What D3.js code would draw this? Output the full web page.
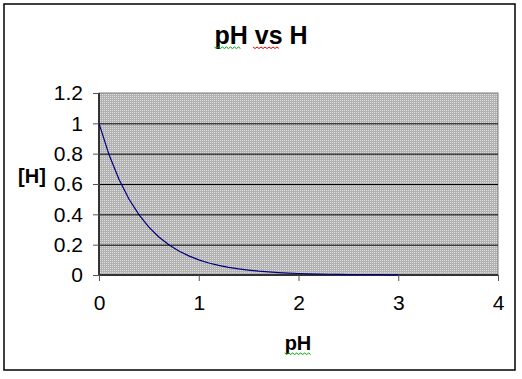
<!DOCTYPE html>
<html>
<head>
<meta charset="utf-8">
<script src="https://cdn.jsdelivr.net/npm/d3@7"></script>
<style>
  body { margin: 0; background: #fff; }
  svg text { font-family: "Liberation Sans", Arial, sans-serif; }
</style>
</head>
<body>
<div id="chart"></div>
<script>
// pH values and matching [H] concentrations
let phValues = [0, 0.1, 0.2, 0.3, 0.4, 0.5, 0.6, 0.7, 0.8, 0.9, 1,
    1.1, 1.2, 1.3, 1.4, 1.5, 1.6, 1.7, 1.8, 1.9, 2,
    2.1, 2.2, 2.3, 2.4, 2.5, 2.6, 2.7, 2.8, 2.9, 3];
let hValues = [1, 0.794, 0.631, 0.501, 0.398, 0.316, 0.251, 0.2, 0.158, 0.126, 0.1,
    0.079, 0.063, 0.05, 0.04, 0.032, 0.025, 0.02, 0.016, 0.013, 0.01,
    0.008, 0.006, 0.005, 0.004, 0.003, 0.003, 0.002, 0.002, 0.001, 0.001];
let xTicks = [0, 1, 2, 3, 4];
let yTicks = [0, 0.2, 0.4, 0.6, 0.8, 1, 1.2];

let width = 522, height = 379;

let svg = d3.select("#chart").append("svg")
    .attr("width", width)
    .attr("height", height);

// dotted fill like the old Excel plot area
let defs = svg.append("defs");
let pat = defs.append("pattern")
    .attr("id", "dots")
    .attr("width", 2).attr("height", 2)
    .attr("patternUnits", "userSpaceOnUse");
pat.append("rect").attr("width", 2).attr("height", 2).attr("fill", "#b2b2b2");
pat.append("rect").attr("width", 1).attr("height", 1).attr("fill", "#dedede");

// outer chart border
svg.append("rect")
    .attr("x", 4).attr("y", 4)
    .attr("width", 511).attr("height", 366)
    .attr("fill", "#fff")
    .attr("stroke", "#000")
    .attr("stroke-width", 1.5);

let x = d3.scaleLinear().domain([0, 4]).range([99, 498]);
let y = d3.scaleLinear().domain([0, 1.2]).range([275, 93]);

// plot area
svg.append("rect")
    .attr("x", x(0)).attr("y", y(1.2))
    .attr("width", x(4) - x(0)).attr("height", y(0) - y(1.2))
    .attr("fill", "url(#dots)")
    .attr("stroke", "#808080")
    .attr("stroke-width", 1);

// gridlines
svg.append("g")
    .selectAll("line")
    .data(yTicks.filter(d => d > 0 && d < 1.2))
    .enter()
    .append("line")
    .attr("x1", x(0)).attr("x2", x(4))
    .attr("y1", d => y(d) + 0.5).attr("y2", d => y(d) + 0.5)
    .attr("stroke", "#000")
    .attr("stroke-width", 1);

// axes
let xAxis = svg.append("g")
    .attr("transform", `translate(0, ${y(0)})`)
    .call(d3.axisBottom(x).tickValues(xTicks).tickSize(6).tickPadding(14).tickFormat(d3.format("d")));

let yAxis = svg.append("g")
    .attr("transform", `translate(${x(0)}, 0)`)
    .call(d3.axisLeft(y).tickValues(yTicks).tickSize(6).tickPadding(10).tickFormat(d => d));

[xAxis, yAxis].forEach(a => {
    a.select(".domain").attr("stroke", "#333").attr("stroke-width", 2);
    a.selectAll(".tick line").attr("stroke", "#555");
    a.selectAll(".tick text")
        .attr("fill", "#000")
        .style("font-size", "21px")
        .style("font-family", "'Liberation Sans', Arial, sans-serif");
});
xAxis.select(".domain").attr("d", `M${x(0)},0H${x(4)}`);
yAxis.select(".domain").attr("d", `M0,${y(0)}V${y(1.2)}`);

// curve
let line = d3.line()
    .x((d, i) => x(phValues[i]))
    .y(d => y(d));

svg.append("path")
    .datum(hValues)
    .attr("d", line)
    .attr("fill", "none")
    .attr("stroke", "#000080")
    .attr("stroke-width", 1.2);

// titles
let title = svg.append("text")
    .attr("x", 261).attr("y", 44)
    .attr("text-anchor", "middle")
    .style("font-size", "25px")
    .style("font-weight", "bold")
    .text("pH vs H");

let yTitle = svg.append("text")
    .attr("x", 32).attr("y", 183)
    .attr("text-anchor", "middle")
    .style("font-size", "20px")
    .style("font-weight", "bold")
    .text("[H]");

let xTitle = svg.append("text")
    .attr("x", 298).attr("y", 350)
    .attr("text-anchor", "middle")
    .style("font-size", "20px")
    .style("font-weight", "bold")
    .text("pH");

// spell-check squiggles under words
function squiggle(x0, x1, yy, color) {
    let pts = [];
    for (let px = x0, k = 0; px <= x1; px += 2, k++) {
        pts.push([px, yy + (k % 2 ? 1.5 : 0)]);
    }
    svg.append("path")
        .attr("d", d3.line()(pts))
        .attr("fill", "none")
        .attr("stroke", color)
        .attr("stroke-width", 1);
}

let tb = title.node().getBBox();
let charW = tb.width / 7;
squiggle(tb.x, tb.x + charW * 2.1, 47, "#00a000");
squiggle(tb.x + charW * 2.9, tb.x + charW * 4.9, 47, "#e00000");

let xb = xTitle.node().getBBox();
squiggle(xb.x, xb.x + xb.width, 353, "#00a000");
</script>
</body>
</html>
